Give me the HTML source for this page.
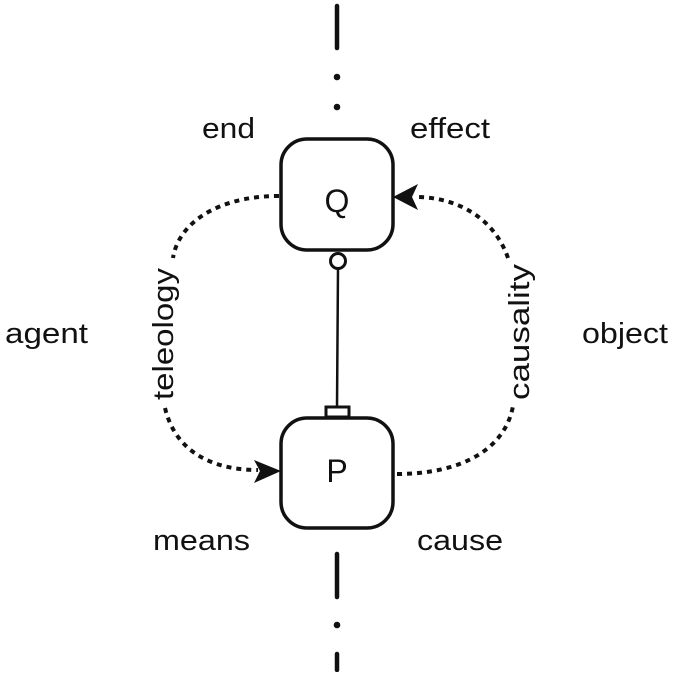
<!DOCTYPE html>
<html><head><style>
html,body{margin:0;padding:0;background:#fff;}
</style></head><body>
<svg width="685" height="672" viewBox="0 0 685 672" xmlns="http://www.w3.org/2000/svg" font-family="Liberation Sans, Arial, sans-serif">
<rect width="685" height="672" fill="#fff"/>
<g stroke="#111" stroke-linecap="round" fill="none">
<line x1="337" y1="6" x2="337" y2="48" stroke-width="4.5"/>
<line x1="337" y1="554" x2="337" y2="597" stroke-width="4.5"/>
<line x1="337" y1="654" x2="337" y2="670" stroke-width="4.5"/>
</g>
<g fill="#111">
<circle cx="337" cy="77" r="3.3"/><circle cx="337" cy="107" r="3.3"/>
<circle cx="337" cy="625" r="3.3"/>
</g>
<line x1="338" y1="268" x2="337" y2="407" stroke="#111" stroke-width="2.5"/>
<rect x="281" y="139" width="112" height="111" rx="26" fill="#fff" stroke="#111" stroke-width="3.5"/>
<rect x="281" y="418" width="112" height="110" rx="26" fill="#fff" stroke="#111" stroke-width="3.5"/>
<circle cx="338" cy="261" r="7.5" fill="#fff" stroke="#111" stroke-width="3"/>
<rect x="326" y="407" width="23" height="10" fill="#fff" stroke="#111" stroke-width="3"/>
<g stroke="#111" stroke-width="4" fill="none" stroke-dasharray="5 5">
<path d="M279,196 C215,196 178,225 173,258"/>
<path d="M165,408 C175,450 210,470 258,470"/>
<path d="M397,474 C460,474 505,450 513,406"/>
<path d="M508,258 C495,220 460,198 418,197"/>
</g>
<polygon points="281,471 254,460 260,471 254,483" fill="#111"/>
<polygon points="393,197 418,184 412,197 418,210" fill="#111"/>
<g font-size="29" fill="#111">
<text x="202" y="138" textLength="53" lengthAdjust="spacingAndGlyphs">end</text>
<text x="410" y="138" textLength="80" lengthAdjust="spacingAndGlyphs">effect</text>
<text x="5" y="343" textLength="83" lengthAdjust="spacingAndGlyphs">agent</text>
<text x="582" y="343" textLength="86" lengthAdjust="spacingAndGlyphs">object</text>
<text x="153" y="550" textLength="97" lengthAdjust="spacingAndGlyphs">means</text>
<text x="417" y="550" textLength="86" lengthAdjust="spacingAndGlyphs">cause</text>
<text x="337" y="212" font-size="32" text-anchor="middle">Q</text>
<text x="337" y="482" font-size="32" text-anchor="middle">P</text>
<text transform="translate(173,400) rotate(-90)" textLength="132" lengthAdjust="spacingAndGlyphs">teleology</text>
<text transform="translate(529,400) rotate(-90)" textLength="136" lengthAdjust="spacingAndGlyphs">causality</text>
</g>
</svg>
</body></html>
